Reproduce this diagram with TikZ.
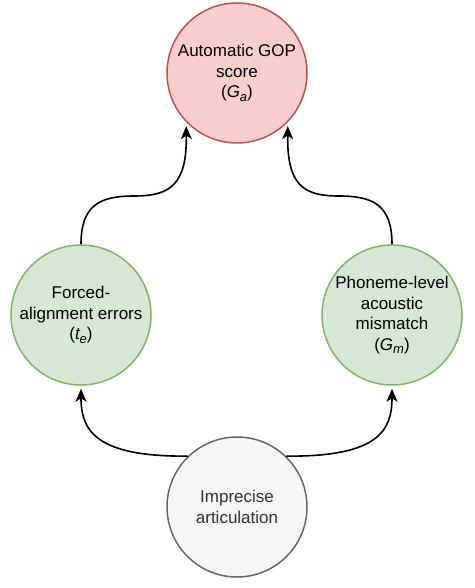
\documentclass[tikz,border=0pt]{standalone}
\usepackage{fontspec}
\setmainfont{Liberation Sans}
\usetikzlibrary{arrows.meta}
\definecolor{redfill}{HTML}{F8CECC}
\definecolor{redline}{HTML}{B85450}
\definecolor{greenfill}{HTML}{D5E8D4}
\definecolor{greenline}{HTML}{82B366}
\definecolor{greyfill}{HTML}{F5F5F5}
\definecolor{greyline}{HTML}{666666}
\definecolor{greytext}{HTML}{333333}
\newcommand{\mysub}[1]{\raisebox{-0.35ex}{\fontsize{13}{13}\selectfont\itshape #1}}
\begin{document}
\begin{tikzpicture}[x=1pt,y=-1pt,
  bubble/.style={circle,minimum size=140pt,inner sep=0pt,align=center,line width=1.5pt,
     font=\fontsize{17}{20.5}\selectfont},
  redc/.style={bubble,draw=redline,fill=redfill},
  greenc/.style={bubble,draw=greenline,fill=greenfill},
  greyc/.style={bubble,draw=greyline,fill=greyfill,text=greytext},
  link/.style={line width=1.6pt,-{Stealth[length=13pt,width=11pt,inset=3.5pt]}}]
\useasboundingbox (0,0) rectangle (474,588);
\node[redc] (T) at (237,73) {Automatic GOP\\score\\({\itshape G}\mysub{a})};
\node[greenc] (L) at (81,315) {Forced-\\alignment errors\\({\itshape t}\mysub{e})};
\node[greenc] (R) at (392,315) {Phoneme-level\\acoustic\\mismatch\\({\itshape G}\mysub{m})};
\node[greyc] (B) at (237,507) {Imprecise\\articulation};
\draw[link,shorten >=4pt] (L.north) .. controls (81,205) and (100,196) .. (134,196)
  .. controls (170,196) and (187,185) .. (T.224);
\draw[link,shorten >=4pt] (R.north) .. controls (392,205) and (373,196) .. (339,196)
  .. controls (303,196) and (287,185) .. (T.316);
\draw[link,shorten >=3pt] (B.134) .. controls (95,457) and (81,430) .. (L.south);
\draw[link,shorten >=3pt] (B.46) .. controls (379,457) and (392,430) .. (R.south);
\end{tikzpicture}
\end{document}
